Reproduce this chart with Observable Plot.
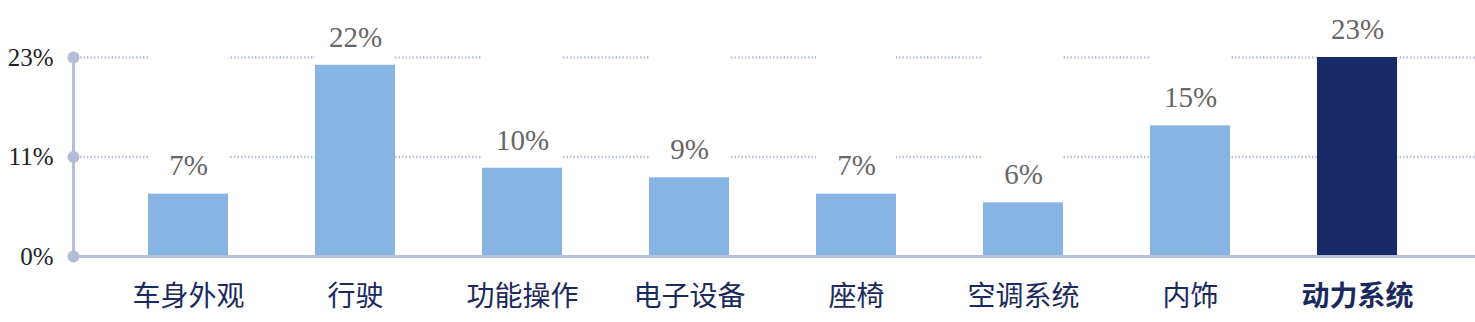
<!DOCTYPE html>
<html>
<head>
<meta charset="utf-8">
<script src="https://cdn.jsdelivr.net/npm/d3@7"></script>
<script src="https://cdn.jsdelivr.net/npm/@observablehq/plot@0.6"></script>
<style>
  html, body { margin: 0; padding: 0; background: #fff; }
  #chart svg { display: block; }
</style>
</head>
<body>
<div id="chart"></div>
<script>
const categories = ["车身外观", "行驶", "功能操作", "电子设备", "座椅", "空调系统", "内饰", "动力系统"];
const values = [7.2, 22.1, 10.2, 9.1, 7.2, 6.2, 15.1, 23.0];
const valueLabels = ["7%", "22%", "10%", "9%", "7%", "6%", "15%", "23%"];
const highlight = [false, false, false, false, false, false, false, true];
const tickValues = [0, 11.5, 23];
const tickLabels = ["0%", "11%", "23%"];

const data = categories.map((c, i) => ({cat: c, value: values[i], label: valueLabels[i], hl: highlight[i]}));
const ticks = tickValues.map((t, i) => ({t, label: tickLabels[i]}));
const yMax = 23;

const serif = "Liberation Serif";
const cjk = "Noto Sans CJK SC";
const axisColor = "#b7bfd8";

const chart = Plot.plot({
  width: 1475,
  height: 322,
  marginLeft: 73,
  marginRight: 0,
  marginTop: 57,
  marginBottom: 66,
  style: {background: "#fff", overflow: "visible"},
  x: {domain: categories, range: [101, 1444], paddingInner: 0.523, paddingOuter: 0.2615, axis: null},
  y: {domain: [0, yMax], axis: null},
  marks: [
    Plot.ruleY(ticks.filter(d => d.t > 0), {y: "t", stroke: "#bcc4e0", strokeWidth: 2.5, strokeDasharray: "1.5 2"}),
    Plot.barY(data, {x: "cat", y1: 0, y2: yMax + 2, fill: "#fff"}),
    Plot.barY(data, {x: "cat", y: "value", fill: d => d.hl ? "#182a68" : "#88b4e4"}),
    Plot.ruleY([0], {stroke: axisColor, strokeWidth: 3}),
    Plot.frame({anchor: "left", stroke: axisColor, strokeWidth: 3}),
    Plot.dot(ticks, {y: "t", frameAnchor: "left", r: 6, fill: "#b4bcd6", stroke: "none"}),
    Plot.text(ticks, {y: "t", text: "label", frameAnchor: "left", dx: -20, textAnchor: "end", fontSize: 25, fontFamily: serif, fill: "#222"}),
    Plot.text(data, {x: "cat", y: "value", text: "label", dy: -28, fontSize: 29, fontFamily: serif, fill: "#666"}),
    Plot.text(data.filter(d => !d.hl), {x: "cat", text: "cat", frameAnchor: "bottom", dy: 49, fontSize: 28, fontFamily: cjk, fill: "#1b2a5e"}),
    Plot.text(data.filter(d => d.hl), {x: "cat", text: "cat", frameAnchor: "bottom", dy: 49, fontSize: 28, fontFamily: cjk, fontWeight: "bold", fill: "#1b2a5e"})
  ]
});
document.getElementById("chart").appendChild(chart);
</script>
</body>
</html>
